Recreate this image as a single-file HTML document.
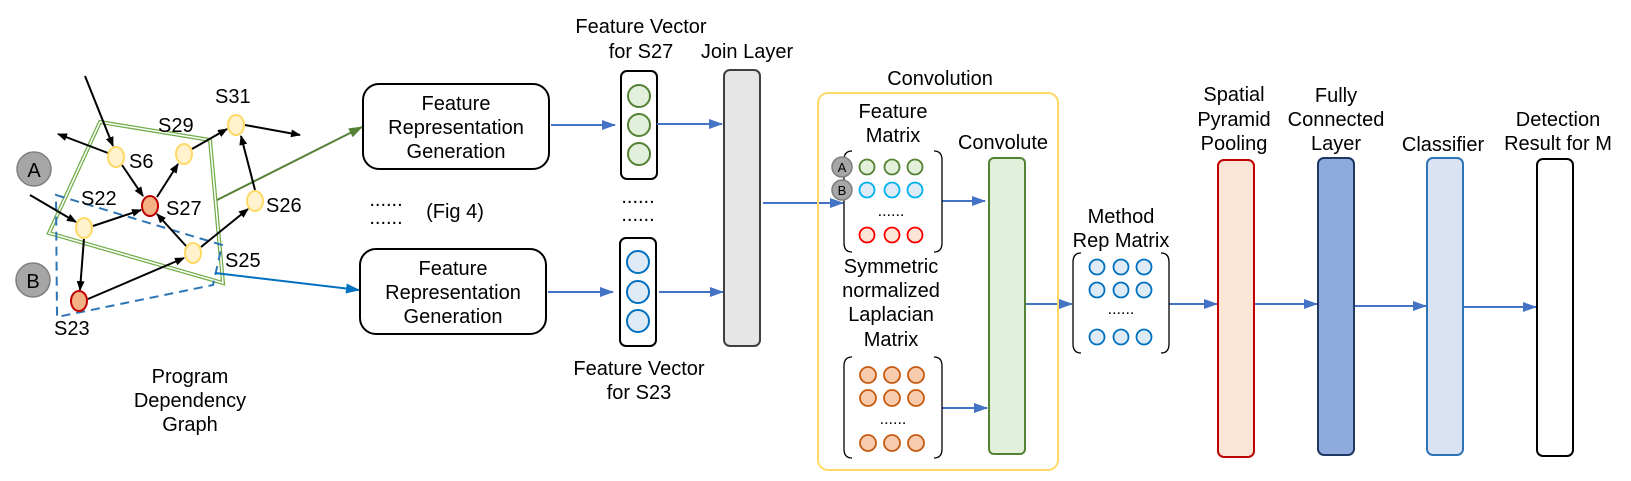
<!DOCTYPE html>
<html><head><meta charset="utf-8"><style>
html,body{margin:0;padding:0;background:#fff;}
svg{display:block;}
text{font-family:"Liberation Sans",sans-serif;font-size:20px;fill:#000;}
</style></head><body>
<svg width="1631" height="481" viewBox="0 0 1631 481" xmlns="http://www.w3.org/2000/svg">
<defs>
<marker id="ak" markerWidth="10" markerHeight="8" refX="9" refY="4" orient="auto" markerUnits="userSpaceOnUse"><path d="M0,0 L10,4 L0,8 z" fill="#000"/></marker>
<marker id="ab" markerWidth="14" markerHeight="10" refX="13" refY="5" orient="auto" markerUnits="userSpaceOnUse"><path d="M0,0 L14,5 L0,10 z" fill="#4472c4"/></marker>
<marker id="ag" markerWidth="14" markerHeight="10" refX="13" refY="5" orient="auto" markerUnits="userSpaceOnUse"><path d="M0,0 L14,5 L0,10 z" fill="#548235"/></marker>
<marker id="ab2" markerWidth="14" markerHeight="10" refX="13" refY="5" orient="auto" markerUnits="userSpaceOnUse"><path d="M0,0 L14,5 L0,10 z" fill="#0070c0"/></marker>
</defs>

<!-- Graph region -->
<polygon points="100,122 210,140 223,283 49,233" fill="none" stroke="#70ad47" stroke-width="4"/>
<polygon points="100,122 210,140 223,283 49,233" fill="none" stroke="#fff" stroke-width="1.5"/>
<polygon points="56,195 222,245 213,285 57,317" fill="none" stroke="#2e75b6" stroke-width="2" stroke-dasharray="9,6"/>

<line x1="217" y1="200" x2="362" y2="127" stroke="#548235" stroke-width="2" marker-end="url(#ag)"/>
<line x1="215" y1="273" x2="359" y2="290" stroke="#0070c0" stroke-width="2" marker-end="url(#ab2)"/>

<g stroke="#000" stroke-width="2" marker-end="url(#ak)">
<line x1="85" y1="76" x2="113" y2="146"/>
<line x1="108" y1="153" x2="58" y2="134"/>
<line x1="122" y1="165" x2="143" y2="196"/>
<line x1="157" y1="197" x2="178" y2="164"/>
<line x1="192" y1="149" x2="227" y2="129"/>
<line x1="245" y1="125" x2="300" y2="135"/>
<line x1="255" y1="190" x2="241" y2="136"/>
<line x1="93" y1="226" x2="141" y2="210"/>
<line x1="30" y1="195" x2="76" y2="222"/>
<line x1="84" y1="238" x2="80" y2="290"/>
<line x1="88" y1="299" x2="184" y2="258"/>
<line x1="186" y1="246" x2="157" y2="214"/>
<line x1="201" y1="247" x2="248" y2="209"/>
</g>
<g fill="#fff2cc" stroke="#ffd966" stroke-width="2">
<ellipse cx="116" cy="157" rx="8" ry="10"/>
<ellipse cx="184" cy="154" rx="8" ry="10"/>
<ellipse cx="236" cy="125" rx="8" ry="10"/>
<ellipse cx="84" cy="228" rx="8" ry="10"/>
<ellipse cx="255" cy="201" rx="8" ry="10"/>
<ellipse cx="193" cy="253" rx="8" ry="10"/>
</g>
<g fill="#f4b183" stroke="#c00000" stroke-width="2">
<ellipse cx="150" cy="206" rx="8" ry="10"/>
<ellipse cx="79" cy="301" rx="8" ry="10"/>
</g>
<circle cx="34" cy="169" r="17" fill="#a6a6a6" stroke="#7f7f7f" stroke-width="1.5"/>
<circle cx="33" cy="280" r="17" fill="#a6a6a6" stroke="#7f7f7f" stroke-width="1.5"/>
<text x="34" y="177" text-anchor="middle">A</text>
<text x="33" y="288" text-anchor="middle">B</text>
<text x="215" y="103">S31</text>
<text x="158" y="132">S29</text>
<text x="129" y="168">S6</text>
<text x="81" y="205">S22</text>
<text x="166" y="215">S27</text>
<text x="266" y="212">S26</text>
<text x="225" y="267">S25</text>
<text x="54" y="335">S23</text>
<text x="190" y="383" text-anchor="middle">Program</text>
<text x="190" y="407" text-anchor="middle">Dependency</text>
<text x="190" y="431" text-anchor="middle">Graph</text>

<!-- FRG boxes -->
<rect x="363" y="84" width="186" height="85" rx="16" fill="#fff" stroke="#000" stroke-width="2"/>
<text x="456" y="110" text-anchor="middle">Feature</text>
<text x="456" y="134" text-anchor="middle">Representation</text>
<text x="456" y="158" text-anchor="middle">Generation</text>
<rect x="360" y="249" width="186" height="85" rx="16" fill="#fff" stroke="#000" stroke-width="2"/>
<text x="453" y="275" text-anchor="middle">Feature</text>
<text x="453" y="299" text-anchor="middle">Representation</text>
<text x="453" y="323" text-anchor="middle">Generation</text>
<text x="386" y="206" text-anchor="middle">......</text>
<text x="386" y="224" text-anchor="middle">......</text>
<text x="455" y="218" text-anchor="middle">(Fig 4)</text>

<!-- Vectors -->
<rect x="621" y="71" width="36" height="108" rx="6" fill="#fff" stroke="#000" stroke-width="2"/>
<g fill="#e2efda" stroke="#548235" stroke-width="2"><circle cx="639" cy="96" r="11"/><circle cx="639" cy="125" r="11"/><circle cx="639" cy="154" r="11"/></g>
<rect x="620" y="238" width="36" height="108" rx="6" fill="#fff" stroke="#000" stroke-width="2"/>
<g fill="#deebf7" stroke="#0070c0" stroke-width="2"><circle cx="638" cy="262" r="11"/><circle cx="638" cy="292" r="11"/><circle cx="638" cy="321" r="11"/></g>
<text x="641" y="33" text-anchor="middle">Feature Vector</text>
<text x="641" y="58" text-anchor="middle">for S27</text>
<text x="639" y="375" text-anchor="middle">Feature Vector</text>
<text x="639" y="399" text-anchor="middle">for S23</text>
<text x="638" y="203" text-anchor="middle">......</text>
<text x="638" y="221" text-anchor="middle">......</text>

<rect x="724" y="70" width="36" height="276" rx="6" fill="#e6e6e6" stroke="#404040" stroke-width="2"/>
<text x="747" y="58" text-anchor="middle">Join Layer</text>

<g stroke="#4472c4" stroke-width="2" marker-end="url(#ab)">
<line x1="551" y1="125" x2="615" y2="125"/>
<line x1="657" y1="124" x2="722" y2="124"/>
<line x1="548" y1="292" x2="613" y2="292"/>
<line x1="659" y1="292" x2="723" y2="292"/>
<line x1="763" y1="203" x2="843" y2="203"/>
<line x1="942" y1="201" x2="985" y2="201"/>
<line x1="942" y1="408" x2="987" y2="408"/>
<line x1="1025" y1="304" x2="1072" y2="304"/>
<line x1="1169" y1="304" x2="1217" y2="304"/>
<line x1="1254" y1="304" x2="1317" y2="304"/>
<line x1="1354" y1="306" x2="1426" y2="306"/>
<line x1="1463" y1="307" x2="1536" y2="307"/>
</g>

<!-- Convolution -->
<rect x="818" y="93" width="240" height="377" rx="10" fill="none" stroke="#ffd966" stroke-width="2"/>
<text x="940" y="85" text-anchor="middle">Convolution</text>
<text x="893" y="118" text-anchor="middle">Feature</text>
<text x="893" y="142" text-anchor="middle">Matrix</text>
<g fill="none" stroke="#000" stroke-width="1.3">
<path d="M852,151 Q844,151 844,160 L844,243 Q844,252 852,252"/>
<path d="M934,151 Q942,151 942,160 L942,243 Q942,252 934,252"/>
<path d="M852,357 Q844,357 844,366 L844,449 Q844,458 852,458"/>
<path d="M934,357 Q942,357 942,366 L942,449 Q942,458 934,458"/>
<path d="M1081,253 Q1073,253 1073,262 L1073,344 Q1073,353 1081,353"/>
<path d="M1161,253 Q1169,253 1169,262 L1169,344 Q1169,353 1161,353"/>
</g>
<g fill="#e2efda" stroke="#548235" stroke-width="1.8"><circle cx="867" cy="167" r="7.5"/><circle cx="892" cy="167" r="7.5"/><circle cx="915" cy="167" r="7.5"/></g>
<g fill="#deebf7" stroke="#00b0f0" stroke-width="1.8"><circle cx="867" cy="190" r="7.5"/><circle cx="892" cy="190" r="7.5"/><circle cx="915" cy="190" r="7.5"/></g>
<g fill="#fbe5d6" stroke="#ff0000" stroke-width="1.8"><circle cx="867" cy="235" r="7.5"/><circle cx="892" cy="235" r="7.5"/><circle cx="915" cy="235" r="7.5"/></g>
<text x="891" y="216" text-anchor="middle" style="font-size:16px">......</text>
<circle cx="842" cy="167" r="10" fill="#a6a6a6" stroke="#7f7f7f" stroke-width="1.5"/>
<circle cx="842" cy="190" r="10" fill="#a6a6a6" stroke="#7f7f7f" stroke-width="1.5"/>
<text x="842" y="172" text-anchor="middle" style="font-size:13px">A</text>
<text x="842" y="195" text-anchor="middle" style="font-size:13px">B</text>

<text x="891" y="273" text-anchor="middle">Symmetric</text>
<text x="891" y="297" text-anchor="middle">normalized</text>
<text x="891" y="321" text-anchor="middle">Laplacian</text>
<text x="891" y="346" text-anchor="middle">Matrix</text>
<g fill="#f8cbad" stroke="#c55a11" stroke-width="1.8">
<circle cx="868" cy="375" r="8"/><circle cx="892" cy="375" r="8"/><circle cx="916" cy="375" r="8"/>
<circle cx="868" cy="398" r="8"/><circle cx="892" cy="398" r="8"/><circle cx="916" cy="398" r="8"/>
<circle cx="868" cy="443" r="8"/><circle cx="892" cy="443" r="8"/><circle cx="916" cy="443" r="8"/>
</g>
<text x="893" y="424" text-anchor="middle" style="font-size:16px">......</text>

<rect x="989" y="158" width="36" height="296" rx="5" fill="#e2efda" stroke="#548235" stroke-width="2"/>
<text x="1003" y="149" text-anchor="middle">Convolute</text>

<!-- Method Rep Matrix -->
<text x="1121" y="223" text-anchor="middle">Method</text>
<text x="1121" y="247" text-anchor="middle">Rep Matrix</text>
<g fill="#deebf7" stroke="#0070c0" stroke-width="1.8">
<circle cx="1097" cy="267" r="7.5"/><circle cx="1121" cy="267" r="7.5"/><circle cx="1144" cy="267" r="7.5"/>
<circle cx="1097" cy="290" r="7.5"/><circle cx="1121" cy="290" r="7.5"/><circle cx="1144" cy="290" r="7.5"/>
<circle cx="1097" cy="337" r="7.5"/><circle cx="1121" cy="337" r="7.5"/><circle cx="1144" cy="337" r="7.5"/>
</g>
<text x="1121" y="314" text-anchor="middle" style="font-size:16px">......</text>

<!-- Right layers -->
<rect x="1218" y="160" width="36" height="297" rx="6" fill="#fbe5d6" stroke="#c00000" stroke-width="2"/>
<rect x="1318" y="158" width="36" height="297" rx="6" fill="#8faadc" stroke="#203864" stroke-width="2"/>
<rect x="1427" y="158" width="36" height="297" rx="6" fill="#dae3f3" stroke="#2e75b6" stroke-width="2"/>
<rect x="1537" y="159" width="36" height="297" rx="6" fill="#fff" stroke="#000" stroke-width="2"/>
<text x="1234" y="101" text-anchor="middle">Spatial</text>
<text x="1234" y="126" text-anchor="middle">Pyramid</text>
<text x="1234" y="150" text-anchor="middle">Pooling</text>
<text x="1336" y="102" text-anchor="middle">Fully</text>
<text x="1336" y="126" text-anchor="middle">Connected</text>
<text x="1336" y="150" text-anchor="middle">Layer</text>
<text x="1443" y="151" text-anchor="middle">Classifier</text>
<text x="1558" y="126" text-anchor="middle">Detection</text>
<text x="1558" y="150" text-anchor="middle">Result for M</text>
</svg>
</body></html>
